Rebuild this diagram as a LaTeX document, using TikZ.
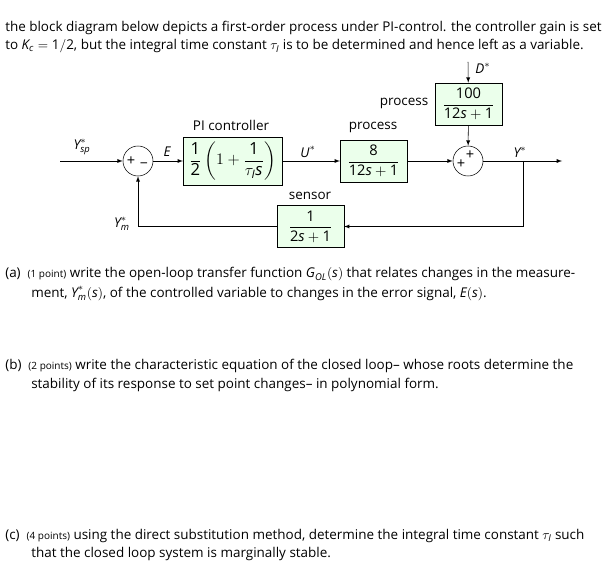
\documentclass[tikz,border=0pt]{standalone}
\usepackage{fontspec}
\setmainfont{Open Sans}
\usepackage{amsmath}
\newcommand{\iv}[1]{\textit{#1}}
\newcommand{\n}[1]{\text{#1}}
\begin{document}
\begin{tikzpicture}[x=0.75pt,y=-0.75pt,font=\fontsize{10.1}{12}\selectfont,
  blk/.style={draw,fill=green!8,inner sep=2pt,font=\fontsize{11}{13}\selectfont},
  sumc/.style={draw,circle,minimum size=22.5pt,inner sep=0pt},
  sg/.style={inner sep=0pt,font=\fontsize{11}{11}\selectfont},
  lbl/.style={inner sep=0pt},
  txt/.style={anchor=base west,inner sep=0pt},
  sig/.style={-latex}]
\useasboundingbox (0,0) rectangle (616,580);
\node[txt] (t1) at (5,32) {the block diagram below depicts a first-order process under PI-control. the controller gain is set};
\node[txt] (t2) at (5,50) {to $\iv{K}_{\iv{c}}=\n{1}/\n{2}$, but the integral time constant $\tau_{\iv{I}}$ is to be determined and hence left as a variable.};
% diagram
\coordinate (in) at (60,161);
\node[sumc] (s1) at (138,161) {};
\node[sg] at (131,161) {+};
\node[sg] at (144,163) {\_};
\node[blk,minimum width=74pt,minimum height=36pt,inner sep=1pt,font=\fontsize{12.5}{14}\selectfont] (pi) at (232.5,161) {$\dfrac{\n{1}}{\n{2}}\left(1+\dfrac{\n{1}}{\tau_{\iv{I}}\iv{s}}\right)$};
\node[blk,minimum width=50pt,minimum height=31.5pt] (gp) at (373.5,161) {$\dfrac{\n{8}}{\n{12}\iv{s}+\n{1}}$};
\node[sumc] (s2) at (468,161) {};
\node[sg] at (461,164) {+};
\node[sg] at (470,155) {+};
\node[blk,minimum width=50pt,minimum height=31.5pt] (gd) at (468.5,104) {$\dfrac{\n{100}}{\n{12}\iv{s}+\n{1}}$};
\node[blk,minimum width=50pt,minimum height=31.5pt] (gm) at (310.5,226.5) {$\dfrac{\n{1}}{\n{2}\iv{s}+\n{1}}$};
\coordinate (dtop) at (468,62);
\coordinate (out) at (562,161);
\coordinate (br) at (523,161);
\coordinate (fb1) at (523,226.5);
\coordinate (fb2) at (138,226.5);
\draw[sig] (in) -- (s1);
\draw[sig] (s1) -- (pi);
\draw[sig] (pi) -- (gp);
\draw[sig] (gp) -- (s2);
\draw[sig] (s2) -- (out);
\draw[sig] (dtop) -- (gd);
\draw[sig] (gd) -- (s2);
\draw[sig] (br) -- (fb1) -- (gm);
\draw[sig] (gm) -- (fb2) -- (s1);
\node[lbl] at (82,147) {$\iv{Y}^*_{\iv{sp}}$};
\node[lbl] at (167,152) {$\iv{E}$};
\node[lbl] at (231,125) {PI controller};
\node[lbl] at (308,152) {$\iv{U}^*$};
\node[lbl] at (373,127) {process};
\node[lbl] at (404,103) {process};
\node[lbl] at (483,68) {$\iv{D}^*$};
\node[lbl] at (520,152) {$\iv{Y}^*$};
\node[lbl] at (310,196) {sensor};
\node[lbl] at (122,224) {$\iv{Y}^*_{\iv{m}}$};
% questions
\node[txt] (a1) at (5,278) {(a)\ \ {\fontsize{7.5}{9}\selectfont(1 point)} write the open-loop transfer function $\iv{G}_{\iv{OL}}(\iv{s})$ that relates changes in the measure-};
\node[txt] (a2) at (31,297) {ment, $\iv{Y}^*_{\iv{m}}(\iv{s})$, of the controlled variable to changes in the error signal, $\iv{E}(\iv{s})$.};
\node[txt] (b1) at (5,369) {(b)\ \ {\fontsize{7.5}{9}\selectfont(2 points)} write the characteristic equation of the closed loop-- whose roots determine the};
\node[txt] (b2) at (31,388) {stability of its response to set point changes-- in polynomial form.};
\node[txt] (c1) at (5,539) {(c)\ \ {\fontsize{7.5}{9}\selectfont(4 points)} using the direct substitution method, determine the integral time constant $\tau_{\iv{I}}$ such};
\node[txt] (c2) at (31,557) {that the closed loop system is marginally stable.};
\end{tikzpicture}
\end{document}
